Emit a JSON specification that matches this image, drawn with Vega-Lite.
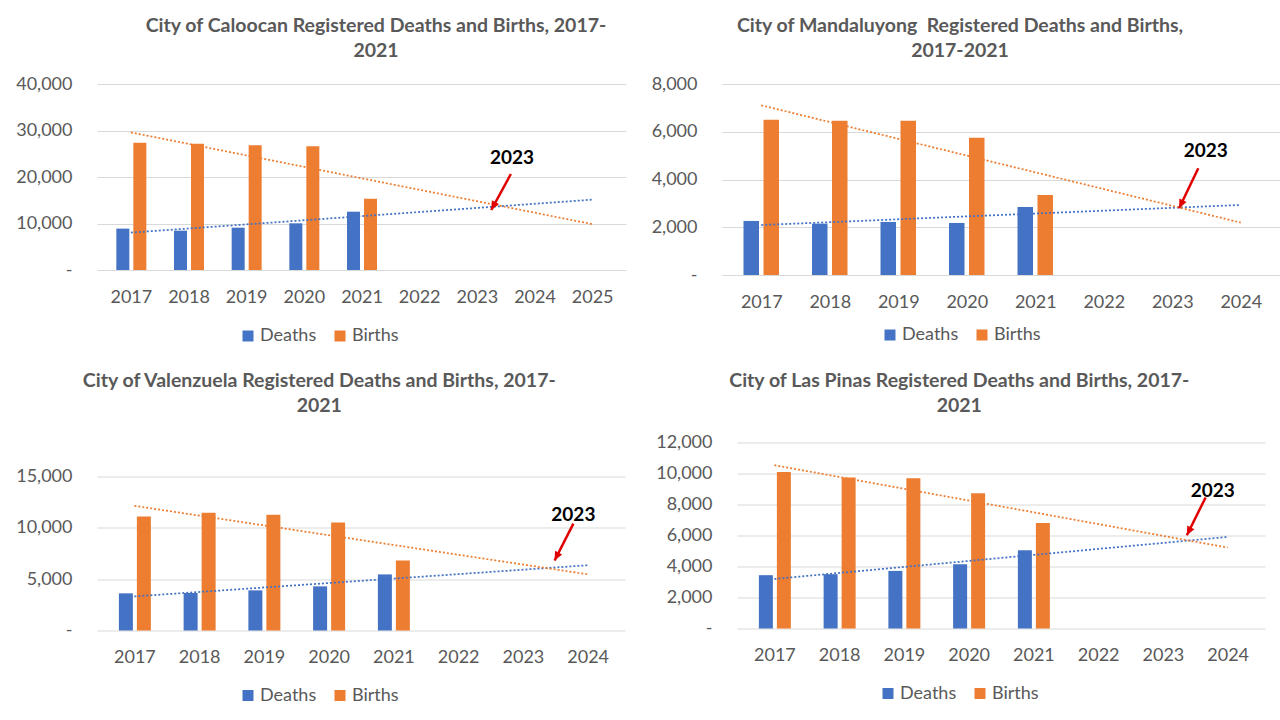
{
  "$schema": "https://vega.github.io/schema/vega-lite/v6.json",
  "padding": {"left": 15, "top": 15, "right": 0, "bottom": 0},
  "background": "white",
  "datasets": {
    "caloocan": [
      {"year": 2017, "series": "Deaths", "value": 8900},
      {"year": 2018, "series": "Deaths", "value": 8460},
      {"year": 2019, "series": "Deaths", "value": 9100},
      {"year": 2020, "series": "Deaths", "value": 10040},
      {"year": 2021, "series": "Deaths", "value": 12540},
      {"year": 2017, "series": "Births", "value": 27380},
      {"year": 2018, "series": "Births", "value": 27170},
      {"year": 2019, "series": "Births", "value": 26810},
      {"year": 2020, "series": "Births", "value": 26600},
      {"year": 2021, "series": "Births", "value": 15340}
    ],
    "mandaluyong": [
      {"year": 2017, "series": "Deaths", "value": 2264},
      {"year": 2018, "series": "Deaths", "value": 2151},
      {"year": 2019, "series": "Deaths", "value": 2222},
      {"year": 2020, "series": "Deaths", "value": 2180},
      {"year": 2021, "series": "Deaths", "value": 2851},
      {"year": 2017, "series": "Births", "value": 6505},
      {"year": 2018, "series": "Births", "value": 6460},
      {"year": 2019, "series": "Births", "value": 6457},
      {"year": 2020, "series": "Births", "value": 5744},
      {"year": 2021, "series": "Births", "value": 3354}
    ],
    "valenzuela": [
      {"year": 2017, "series": "Deaths", "value": 3619},
      {"year": 2018, "series": "Deaths", "value": 3650},
      {"year": 2019, "series": "Deaths", "value": 3910},
      {"year": 2020, "series": "Deaths", "value": 4298},
      {"year": 2021, "series": "Deaths", "value": 5463},
      {"year": 2017, "series": "Births", "value": 11100},
      {"year": 2018, "series": "Births", "value": 11480},
      {"year": 2019, "series": "Births", "value": 11285},
      {"year": 2020, "series": "Births", "value": 10508},
      {"year": 2021, "series": "Births", "value": 6821}
    ],
    "laspinas": [
      {"year": 2017, "series": "Deaths", "value": 3439},
      {"year": 2018, "series": "Deaths", "value": 3503},
      {"year": 2019, "series": "Deaths", "value": 3716},
      {"year": 2020, "series": "Deaths", "value": 4148},
      {"year": 2021, "series": "Deaths", "value": 5052},
      {"year": 2017, "series": "Births", "value": 10103},
      {"year": 2018, "series": "Births", "value": 9742},
      {"year": 2019, "series": "Births", "value": 9697},
      {"year": 2020, "series": "Births", "value": 8729},
      {"year": 2021, "series": "Births", "value": 6813}
    ],
    "caloocanNote": [{"label": "2023", "labelYear": 2023.61, "labelValue": 24040, "tailYear": 2023.59, "tailValue": 20645, "headYear": 2023.25, "headValue": 12900}],
    "mandaluyongNote": [{"label": "2023", "labelYear": 2023.49, "labelValue": 5199, "tailYear": 2023.38, "tailValue": 4474, "headYear": 2023.10, "headValue": 2797}],
    "valenzuelaNote": [{"label": "2023", "labelYear": 2023.78, "labelValue": 11236, "tailYear": 2023.78, "tailValue": 10411, "headYear": 2023.49, "headValue": 6821}],
    "laspinasNote": [{"label": "2023", "labelYear": 2023.77, "labelValue": 8877, "tailYear": 2023.66, "tailValue": 8452, "headYear": 2023.37, "headValue": 6019}]
  },
  "config": {
    "view": {"stroke": null},
    "font": "Lato",
    "axis": {
      "labelFont": "Lato", "labelFontSize": 18, "labelColor": "#595959",
      "ticks": false, "tickSize": 0, "domain": false,
      "labelFlush": false, "labelOverlap": false, "labelBound": false
    },
    "axisY": {"grid": true, "gridColor": "#D9D9D9", "gridWidth": 1, "labelPadding": 25},
    "axisX": {"grid": false, "labelPadding": 18},
    "title": {"font": "Lato", "fontSize": 19.5, "fontWeight": "bold", "color": "#595959", "lineHeight": 25, "anchor": "middle", "frame": "group"},
    "legend": {
      "title": null, "orient": "none", "direction": "horizontal",
      "symbolType": "square", "symbolSize": 121, "symbolStrokeWidth": 0,
      "labelFont": "Lato", "labelFontSize": 18, "labelColor": "#595959",
      "labelOffset": 3, "columnPadding": 14, "padding": 0
    }
  },
  "resolve": {"scale": {"color": "independent", "stroke": "independent"}, "legend": {"color": "independent", "stroke": "independent"}},
  "columns": 2,
  "align": "none",
  "spacing": {"row": 25.5, "column": 25},
  "concat": [
    {
      "width": 529, "height": 186,
      "title": {"text": ["City of Caloocan Registered Deaths and Births, 2017-", "2021"], "dx": 14.5, "offset": 14},
      "data": {"name": "caloocan"},
      "layer": [
        {
          "transform": [{"filter": "datum.series === 'Deaths'"}],
          "mark": {"type": "bar", "width": 13, "xOffset": -8},
          "encoding": {
            "x": {"field": "year", "type": "quantitative", "title": null, "scale": {"domain": [2016.5, 2025.5], "nice": false, "zero": false}, "axis": {"values": [2017, 2018, 2019, 2020, 2021, 2022, 2023, 2024, 2025], "tickCount": 20, "format": "d", "labelOverlap": false}},
            "y": {"field": "value", "type": "quantitative", "title": null, "scale": {"domain": [0, 40000], "nice": false}, "axis": {"values": [0, 10000, 20000, 30000, 40000], "tickCount": 20, "labelExpr": "datum.value === 0 ? '-' : datum.label", "labelOverlap": false, "minExtent": 82, "maxExtent": 82}},
            "color": {"field": "series", "type": "nominal", "scale": {"domain": ["Deaths", "Births"], "range": ["#4472C4", "#ED7D31"]}, "legend": {"legendX": 142, "legendY": 243}}
          }
        },
        {
          "transform": [{"filter": "datum.series === 'Births'"}],
          "mark": {"type": "bar", "width": 13, "xOffset": 9},
          "encoding": {
            "x": {"field": "year", "type": "quantitative", "title": null},
            "y": {"field": "value", "type": "quantitative", "title": null},
            "color": {"field": "series", "type": "nominal", "legend": {"legendX": 142, "legendY": 243}}
          }
        },
        {
          "transform": [{"regression": "value", "on": "year", "groupby": ["series"], "extent": [2017, 2025]}],
          "mark": {"type": "line", "strokeDash": [2, 2], "strokeWidth": 1.75},
          "encoding": {
            "x": {"field": "year", "type": "quantitative", "title": null},
            "y": {"field": "value", "type": "quantitative", "title": null},
            "stroke": {"field": "series", "type": "nominal", "scale": {"domain": ["Deaths", "Births"], "range": ["#4472C4", "#ED7D31"]}, "legend": null}
          }
        },
        {
          "data": {"name": "caloocanNote"},
          "mark": {"type": "rule", "color": "#E00000", "strokeWidth": 2.5},
          "encoding": {
            "x": {"field": "tailYear", "type": "quantitative", "title": null},
            "y": {"field": "tailValue", "type": "quantitative", "title": null},
            "x2": {"field": "headYear"},
            "y2": {"field": "headValue"}
          }
        },
        {
          "data": {"name": "caloocanNote"},
          "mark": {"type": "point", "shape": "M0,0L-1,-2.2L1,-2.2Z", "size": 64, "filled": true, "color": "#E00000", "opacity": 1, "angle": 28},
          "encoding": {
            "x": {"field": "headYear", "type": "quantitative", "title": null},
            "y": {"field": "headValue", "type": "quantitative", "title": null}
          }
        },
        {
          "data": {"name": "caloocanNote"},
          "mark": {"type": "text", "font": "Lato", "fontSize": 19, "fontWeight": "bold", "color": "#000000"},
          "encoding": {
            "x": {"field": "labelYear", "type": "quantitative", "title": null},
            "y": {"field": "labelValue", "type": "quantitative", "title": null},
            "text": {"field": "label"}
          }
        }
      ]
    },
    {
      "width": 558, "height": 191,
      "title": {"text": ["City of Mandaluyong\u00a0 Registered Deaths and Births,", "2017-2021"], "dx": -41, "offset": 14},
      "data": {"name": "mandaluyong"},
      "layer": [
        {
          "transform": [{"filter": "datum.series === 'Deaths'"}],
          "mark": {"type": "bar", "width": 15.5, "xOffset": -10},
          "encoding": {
            "x": {"field": "year", "type": "quantitative", "title": null, "scale": {"domain": [2016.5, 2024.5], "nice": false, "zero": false}, "axis": {"values": [2017, 2018, 2019, 2020, 2021, 2022, 2023, 2024], "tickCount": 20, "format": "d", "labelOverlap": false}},
            "y": {"field": "value", "type": "quantitative", "title": null, "scale": {"domain": [0, 8000], "nice": false}, "axis": {"values": [0, 2000, 4000, 6000, 8000], "tickCount": 20, "labelExpr": "datum.value === 0 ? '-' : datum.label", "labelOverlap": false}},
            "color": {"field": "series", "type": "nominal", "scale": {"domain": ["Deaths", "Births"], "range": ["#4472C4", "#ED7D31"]}, "legend": {"legendX": 159, "legendY": 242}}
          }
        },
        {
          "transform": [{"filter": "datum.series === 'Births'"}],
          "mark": {"type": "bar", "width": 15.5, "xOffset": 10},
          "encoding": {
            "x": {"field": "year", "type": "quantitative", "title": null},
            "y": {"field": "value", "type": "quantitative", "title": null},
            "color": {"field": "series", "type": "nominal", "legend": {"legendX": 159, "legendY": 242}}
          }
        },
        {
          "transform": [{"regression": "value", "on": "year", "groupby": ["series"], "extent": [2017, 2024]}],
          "mark": {"type": "line", "strokeDash": [2, 2], "strokeWidth": 1.75},
          "encoding": {
            "x": {"field": "year", "type": "quantitative", "title": null},
            "y": {"field": "value", "type": "quantitative", "title": null},
            "stroke": {"field": "series", "type": "nominal", "scale": {"domain": ["Deaths", "Births"], "range": ["#4472C4", "#ED7D31"]}, "legend": null}
          }
        },
        {
          "data": {"name": "mandaluyongNote"},
          "mark": {"type": "rule", "color": "#E00000", "strokeWidth": 2.5},
          "encoding": {
            "x": {"field": "tailYear", "type": "quantitative", "title": null},
            "y": {"field": "tailValue", "type": "quantitative", "title": null},
            "x2": {"field": "headYear"},
            "y2": {"field": "headValue"}
          }
        },
        {
          "data": {"name": "mandaluyongNote"},
          "mark": {"type": "point", "shape": "M0,0L-1,-2.2L1,-2.2Z", "size": 64, "filled": true, "color": "#E00000", "opacity": 1, "angle": 26},
          "encoding": {
            "x": {"field": "headYear", "type": "quantitative", "title": null},
            "y": {"field": "headValue", "type": "quantitative", "title": null}
          }
        },
        {
          "data": {"name": "mandaluyongNote"},
          "mark": {"type": "text", "font": "Lato", "fontSize": 19, "fontWeight": "bold", "color": "#000000"},
          "encoding": {
            "x": {"field": "labelYear", "type": "quantitative", "title": null},
            "y": {"field": "labelValue", "type": "quantitative", "title": null},
            "text": {"field": "label"}
          }
        }
      ]
    },
    {
      "width": 528, "height": 154,
      "title": {"text": ["City of Valenzuela Registered Deaths and Births, 2017-", "2021"], "dx": -41.7, "offset": 51},
      "data": {"name": "valenzuela"},
      "layer": [
        {
          "transform": [{"filter": "datum.series === 'Deaths'"}],
          "mark": {"type": "bar", "width": 14, "xOffset": -8.5},
          "encoding": {
            "x": {"field": "year", "type": "quantitative", "title": null, "scale": {"domain": [2016.5, 2024.5], "nice": false, "zero": false}, "axis": {"values": [2017, 2018, 2019, 2020, 2021, 2022, 2023, 2024], "tickCount": 20, "format": "d", "labelOverlap": false}},
            "y": {"field": "value", "type": "quantitative", "title": null, "scale": {"domain": [0, 15000], "nice": false}, "axis": {"values": [0, 5000, 10000, 15000], "tickCount": 20, "labelExpr": "datum.value === 0 ? '-' : datum.label", "labelOverlap": false, "minExtent": 82, "maxExtent": 82}},
            "color": {"field": "series", "type": "nominal", "scale": {"domain": ["Deaths", "Births"], "range": ["#4472C4", "#ED7D31"]}, "legend": {"legendX": 142, "legendY": 210}}
          }
        },
        {
          "transform": [{"filter": "datum.series === 'Births'"}],
          "mark": {"type": "bar", "width": 14, "xOffset": 9.5},
          "encoding": {
            "x": {"field": "year", "type": "quantitative", "title": null},
            "y": {"field": "value", "type": "quantitative", "title": null},
            "color": {"field": "series", "type": "nominal", "legend": {"legendX": 142, "legendY": 210}}
          }
        },
        {
          "transform": [{"regression": "value", "on": "year", "groupby": ["series"], "extent": [2017, 2024]}],
          "mark": {"type": "line", "strokeDash": [2, 2], "strokeWidth": 1.75},
          "encoding": {
            "x": {"field": "year", "type": "quantitative", "title": null},
            "y": {"field": "value", "type": "quantitative", "title": null},
            "stroke": {"field": "series", "type": "nominal", "scale": {"domain": ["Deaths", "Births"], "range": ["#4472C4", "#ED7D31"]}, "legend": null}
          }
        },
        {
          "data": {"name": "valenzuelaNote"},
          "mark": {"type": "rule", "color": "#E00000", "strokeWidth": 2.5},
          "encoding": {
            "x": {"field": "tailYear", "type": "quantitative", "title": null},
            "y": {"field": "tailValue", "type": "quantitative", "title": null},
            "x2": {"field": "headYear"},
            "y2": {"field": "headValue"}
          }
        },
        {
          "data": {"name": "valenzuelaNote"},
          "mark": {"type": "point", "shape": "M0,0L-1,-2.2L1,-2.2Z", "size": 64, "filled": true, "color": "#E00000", "opacity": 1, "angle": 27},
          "encoding": {
            "x": {"field": "headYear", "type": "quantitative", "title": null},
            "y": {"field": "headValue", "type": "quantitative", "title": null}
          }
        },
        {
          "data": {"name": "valenzuelaNote"},
          "mark": {"type": "text", "font": "Lato", "fontSize": 19, "fontWeight": "bold", "color": "#000000"},
          "encoding": {
            "x": {"field": "labelYear", "type": "quantitative", "title": null},
            "y": {"field": "labelValue", "type": "quantitative", "title": null},
            "text": {"field": "label"}
          }
        }
      ]
    },
    {
      "width": 528, "height": 186,
      "title": {"text": ["City of Las Pinas Registered Deaths and Births, 2017-", "2021"], "dx": -41.7, "offset": 17.5},
      "data": {"name": "laspinas"},
      "layer": [
        {
          "transform": [{"filter": "datum.series === 'Deaths'"}],
          "mark": {"type": "bar", "width": 14, "xOffset": -8.5},
          "encoding": {
            "x": {"field": "year", "type": "quantitative", "title": null, "scale": {"domain": [2016.5, 2024.5], "nice": false, "zero": false}, "axis": {"values": [2017, 2018, 2019, 2020, 2021, 2022, 2023, 2024], "tickCount": 20, "format": "d", "labelOverlap": false}},
            "y": {"field": "value", "type": "quantitative", "title": null, "scale": {"domain": [0, 12000], "nice": false}, "axis": {"values": [0, 2000, 4000, 6000, 8000, 10000, 12000], "tickCount": 20, "labelExpr": "datum.value === 0 ? '-' : datum.label", "labelOverlap": false, "minExtent": 86, "maxExtent": 86}},
            "color": {"field": "series", "type": "nominal", "scale": {"domain": ["Deaths", "Births"], "range": ["#4472C4", "#ED7D31"]}, "legend": {"legendX": 142, "legendY": 242}}
          }
        },
        {
          "transform": [{"filter": "datum.series === 'Births'"}],
          "mark": {"type": "bar", "width": 14, "xOffset": 9.5},
          "encoding": {
            "x": {"field": "year", "type": "quantitative", "title": null},
            "y": {"field": "value", "type": "quantitative", "title": null},
            "color": {"field": "series", "type": "nominal", "legend": {"legendX": 142, "legendY": 242}}
          }
        },
        {
          "transform": [{"regression": "value", "on": "year", "groupby": ["series"], "extent": [2017, 2024]}],
          "mark": {"type": "line", "strokeDash": [2, 2], "strokeWidth": 1.75},
          "encoding": {
            "x": {"field": "year", "type": "quantitative", "title": null},
            "y": {"field": "value", "type": "quantitative", "title": null},
            "stroke": {"field": "series", "type": "nominal", "scale": {"domain": ["Deaths", "Births"], "range": ["#4472C4", "#ED7D31"]}, "legend": null}
          }
        },
        {
          "data": {"name": "laspinasNote"},
          "mark": {"type": "rule", "color": "#E00000", "strokeWidth": 2.5},
          "encoding": {
            "x": {"field": "tailYear", "type": "quantitative", "title": null},
            "y": {"field": "tailValue", "type": "quantitative", "title": null},
            "x2": {"field": "headYear"},
            "y2": {"field": "headValue"}
          }
        },
        {
          "data": {"name": "laspinasNote"},
          "mark": {"type": "point", "shape": "M0,0L-1,-2.2L1,-2.2Z", "size": 64, "filled": true, "color": "#E00000", "opacity": 1, "angle": 27},
          "encoding": {
            "x": {"field": "headYear", "type": "quantitative", "title": null},
            "y": {"field": "headValue", "type": "quantitative", "title": null}
          }
        },
        {
          "data": {"name": "laspinasNote"},
          "mark": {"type": "text", "font": "Lato", "fontSize": 19, "fontWeight": "bold", "color": "#000000"},
          "encoding": {
            "x": {"field": "labelYear", "type": "quantitative", "title": null},
            "y": {"field": "labelValue", "type": "quantitative", "title": null},
            "text": {"field": "label"}
          }
        }
      ]
    }
  ]
}
